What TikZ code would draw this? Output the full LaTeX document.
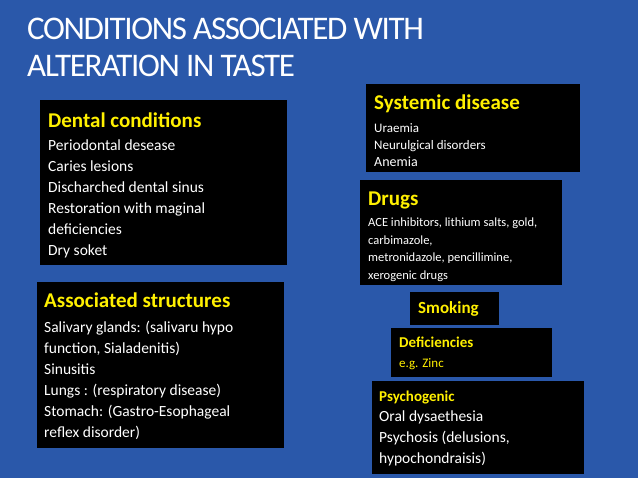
\documentclass[tikz,border=0pt]{standalone}
\usepackage{fontspec}
\setmainfont{Carlito}
\newfontfamily\ttlfont[LetterSpace=-4]{Carlito}
\definecolor{bg}{RGB}{42,88,170}
\definecolor{ttl}{RGB}{255,240,0}
\tikzset{x=1pt,y=-1pt,
 box/.style={fill=black,inner sep=0pt},
 body/.style={anchor=north west,align=left,text=white,inner sep=0pt,font=\fontsize{15.5}{21}\selectfont},
 hd/.style={anchor=north west,text=ttl,inner sep=0pt,font=\bfseries\fontsize{21}{24}\selectfont}}
\begin{document}
\begin{tikzpicture}
\fill[bg] (0,0) rectangle (638,478);
\useasboundingbox (0,0) rectangle (638,478);
\node[anchor=north west,text=white,align=left,inner sep=0pt,font=\ttlfont\fontsize{33}{37}\selectfont] (t) at (27,18) {CONDITIONS ASSOCIATED WITH\\ALTERATION IN TASTE};
% dental
\fill (40,100) rectangle (287,265);
\node[hd] (dh) at (48,113) {Dental conditions};
\node[body] (db) at (48,140) {Periodontal desease\\Caries lesions\\Discharched dental sinus\\Restoration with maginal\\deficiencies\\Dry soket};
% systemic
\fill (366,84) rectangle (580,172);
\node[hd] (sh) at (374,95) {Systemic disease};
\node[body,font=\fontsize{13}{17}\selectfont] (sb) at (374,123) {Uraemia\\Neurulgical disorders\\\fontsize{14}{17}\selectfont Anemia};
% drugs
\fill (360,180) rectangle (562,285);
\node[hd] (drh) at (368,192) {Drugs};
\node[body,font=\fontsize{12.5}{17.5}\selectfont] (drb) at (368,218) {ACE inhibitors, lithium salts, gold,\\carbimazole,\\ metronidazole, pencillimine,\\xerogenic drugs};
% associated
\fill (37,282) rectangle (284,448);
\node[hd] (ah) at (44,293) {Associated structures};
\node[body] (ab) at (44,321) {Salivary glands: (salivaru hypo\\function, Sialadenitis)\\Sinusitis\\Lungs : (respiratory disease)\\Stomach: (Gastro-Esophageal\\reflex disorder)};
% smoking
\fill (410,292) rectangle (499,325);
\node[hd,font=\bfseries\fontsize{17}{20}\selectfont] (smh) at (418,301) {Smoking};
% deficiencies
\fill (391,328) rectangle (552,377);
\node[hd,font=\bfseries\fontsize{15}{18}\selectfont] (dfh) at (399,337) {Deficiencies};
\node[body,text=ttl,font=\fontsize{13}{16}\selectfont] (dfb) at (399,358) {e.g. Zinc};
% psychogenic
\fill (372,381) rectangle (584,474);
\node[hd,font=\bfseries\fontsize{15}{18}\selectfont] (ph) at (379,391) {Psychogenic};
\node[body] (pb) at (379,411) {Oral dysaethesia\\Psychosis (delusions,\\hypochondraisis)};
\end{tikzpicture}
\end{document}
